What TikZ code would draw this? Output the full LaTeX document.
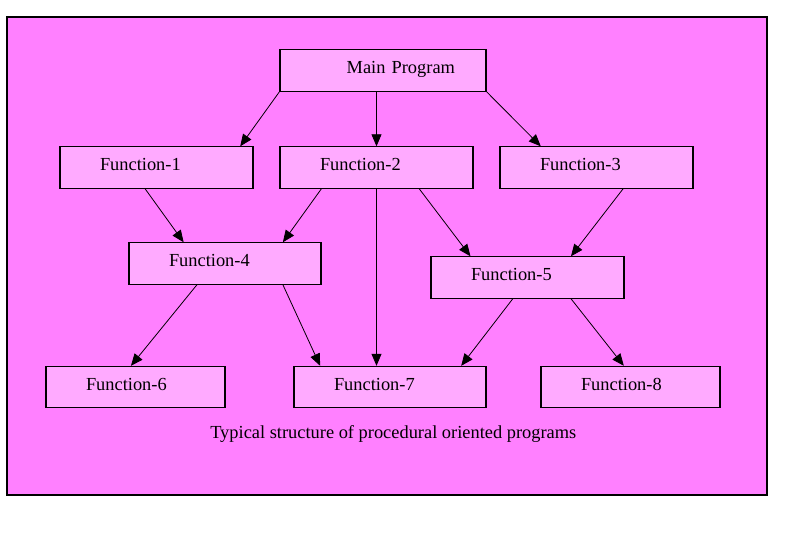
\documentclass[tikz,border=0pt]{standalone}
\usepackage{fontspec}
\setmainfont{Liberation Serif}
\usetikzlibrary{positioning,calc,arrows.meta}
\definecolor{pagepink}{RGB}{255,128,255}
\definecolor{boxpink}{RGB}{255,170,255}
\tikzset{
  fbox/.style={draw, fill=boxpink, line width=0.8pt, inner sep=0pt,
    minimum height=31pt, text height=10pt, text depth=5.3pt,
    text width=#1, align=left, font=\fontsize{13.8}{15}\selectfont},
  arr/.style={-{Triangle[length=9pt,width=7.5pt]}, line width=0.6pt}
}
\begin{document}
\begin{tikzpicture}[x=0.75pt,y=-0.75pt]
      \useasboundingbox (0,0) rectangle (807,539);
      % Page
      \draw[fill=pagepink, line width=0.8pt] (7,17) rectangle (767,495);
      % Boxes
      \node[fbox=154.5pt] (main) at (383,70.5) {\hspace*{50pt}Main Program};
      \node[fbox=144.75pt] (f1) at (156.5,167.5) {\hspace*{30pt}Function-1};
      \node[fbox=144.75pt] (f2) at (376.5,167.5) {\hspace*{30pt}Function-2};
      \node[fbox=144.75pt] (f3) at (596.5,167.5) {\hspace*{30pt}Function-3};
      \node[fbox=144pt] (f4) at (225,263.5) {\hspace*{30pt}Function-4};
      \node[fbox=144.75pt] (f5) at (527.5,277.5) {\hspace*{30pt}Function-5};
      \node[fbox=134.25pt] (f6) at (135.5,387) {\hspace*{30pt}Function-6};
      \node[fbox=144pt] (f7) at (390,387) {\hspace*{30pt}Function-7};
      \node[fbox=134.25pt] (f8) at (630.5,387) {\hspace*{30pt}Function-8};
      % Calls
      \draw[arr] (main.south west) -- ([xshift=-10pt]f1.north east);
      \draw[arr] (main.south -| f2.north) -- (f2.north);
      \draw[arr] (main.south east) -- ([xshift=31pt]f3.north west);
      \draw[arr] ([xshift=-8.6pt]f1.south) -- ([xshift=-31pt]f4.north);
      \draw[arr] ([xshift=31.5pt]f2.south west) -- ([xshift=-29pt]f4.north east);
      \draw[arr] (f2.south) -- (f2.south |- f7.north);
      \draw[arr] ([xshift=32pt]f2.south) -- ([xshift=30pt]f5.north west);
      \draw[arr] ([xshift=20pt]f3.south) -- ([xshift=32.6pt]f5.north);
      \draw[arr] ([xshift=-21pt]f4.south) -- ([xshift=-3.4pt]f6.north);
      \draw[arr] ([xshift=-29pt]f4.south east) -- ([xshift=20pt]f7.north west);
      \draw[arr] ([xshift=-11pt]f5.south) -- ([xshift=-19pt]f7.north east);
      \draw[arr] ([xshift=32.6pt]f5.south) -- ([xshift=-5pt]f8.north);
      % Caption
      \node[anchor=west, inner sep=0pt, font=\fontsize{13.8}{15}\selectfont] (cap) at (210,434)
        {Typical structure of procedural oriented programs};
\end{tikzpicture}
\end{document}
